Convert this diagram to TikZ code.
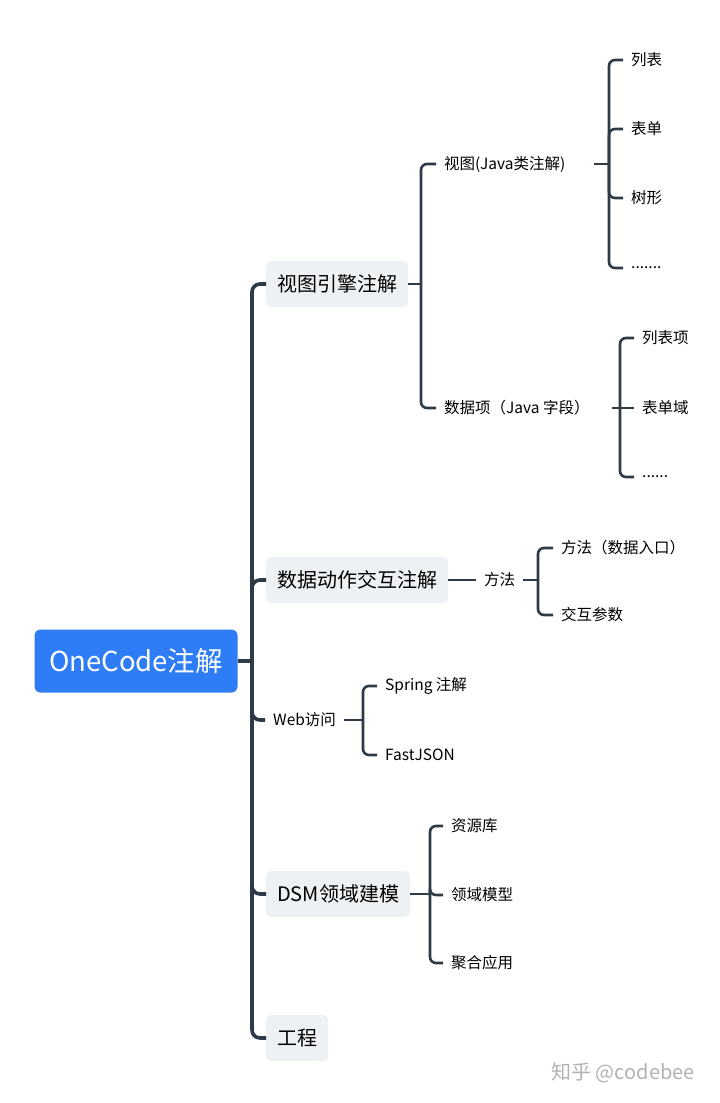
\documentclass[tikz,border=0pt]{standalone}
\usepackage{fontspec}
\setmainfont{Noto Sans CJK SC}
\usepackage{xcolor}
\usepackage{tikz}
\usetikzlibrary{positioning}

\definecolor{rootblue}{HTML}{2E7CF6}
\definecolor{topicgray}{HTML}{EEF1F4}
\definecolor{linedark}{HTML}{2F3A47}

\begin{document}
\begin{tikzpicture}[
    x=1pt, y=-1pt,
    root/.style={rectangle, fill=rootblue, rounded corners=6pt, text=white, minimum width=203pt, minimum height=63pt, inner sep=0pt, font=\fontsize{27.5}{32}\selectfont},
    topic/.style={rectangle, fill=topicgray, rounded corners=5pt, anchor=west, minimum height=46pt, inner xsep=11pt, font=\fontsize{20}{24}\selectfont},
    sub/.style={anchor=west, inner xsep=8pt, inner ysep=2pt, font=\fontsize{15.5}{18}\selectfont},
    trunk/.style={draw=linedark, line width=3.6pt, rounded corners=8pt},
    branch/.style={draw=linedark, line width=2.6pt, rounded corners=6pt},
    watermark/.style={text=black!30, font=\fontsize{20}{24}\selectfont}
]
\useasboundingbox[fill=white] (0,0) rectangle (720,1103);

% Root
\node[root] (onecode) at (136,661) {OneCode注解};

% Main topics
\node[topic] (viewengine) at (266,284) {视图引擎注解};
\node[topic] (dataaction) at (266,580) {数据动作交互注解};
\node[sub] (web) at (265,720) {Web访问};
\node[topic] (dsm) at (266,894) {DSM领域建模};
\node[topic] (project) at (266,1038) {工程};

% View engine
\node[sub] (viewclass) at (436,164) {视图(Java类注解)};
\node[sub] (datafield) at (436,408) {数据项（Java 字段）};
\node[sub] (list) at (623,60) {列表};
\node[sub] (form) at (623,129) {表单};
\node[sub] (tree) at (623,198) {树形};
\node[sub] (viewmore) at (623,268) {.......};
\node[sub] (listitem) at (634,338) {列表项};
\node[sub] (formfield) at (634,408) {表单域};
\node[sub] (fieldmore) at (634,477) {......};

% Data action
\node[sub] (method) at (476,580) {方法};
\node[sub] (entry) at (553,548) {方法（数据入口）};
\node[sub] (params) at (553,615) {交互参数};

% Web access
\node[sub] (spring) at (377,686) {Spring 注解};
\node[sub] (fastjson) at (377,755) {FastJSON};

% DSM
\node[sub] (repo) at (443,826) {资源库};
\node[sub] (model) at (443,895) {领域模型};
\node[sub] (app) at (443,963) {聚合应用};

% Junctions
\coordinate (trunkJ) at (252,661);
\coordinate (viewJ) at (421,284);
\coordinate (classJ) at (609,164);
\coordinate (fieldJ) at (620,408);
\coordinate (methodJ) at (538,580);
\coordinate (webJ) at (363,720);
\coordinate (dsmJ) at (430,894);

% Trunk
\draw[trunk] (onecode.east) -- (trunkJ);
\draw[trunk] (trunkJ) |- (viewengine.west);
\draw[trunk] (trunkJ) |- (dataaction.west);
\draw[trunk] (trunkJ) |- (web.west);
\draw[trunk] (trunkJ) |- (dsm.west);
\draw[trunk] (trunkJ) |- (project.west);

% View engine branches
\draw[branch] (viewengine.east) -- (viewJ);
\draw[branch] (viewJ) |- (viewclass.west);
\draw[branch] (viewJ) |- (datafield.west);
\draw[branch] ([xshift=20pt]viewclass.east) -- (classJ);
\draw[branch] (classJ) |- (list.west);
\draw[branch] (classJ) |- (form.west);
\draw[branch] (classJ) |- (tree.west);
\draw[branch] (classJ) |- (viewmore.west);
\draw[branch] ([xshift=14pt]datafield.east) -- (fieldJ);
\draw[branch] (fieldJ) |- (listitem.west);
\draw[branch] (fieldJ) -- (formfield.west);
\draw[branch] (fieldJ) |- (fieldmore.west);

% Data action branches
\draw[branch] (dataaction.east) -- (method.west);
\draw[branch] (method.east) -- (methodJ);
\draw[branch] (methodJ) |- (entry.west);
\draw[branch] (methodJ) |- (params.west);

% Web access branches
\draw[branch] (web.east) -- (webJ);
\draw[branch] (webJ) |- (spring.west);
\draw[branch] (webJ) |- (fastjson.west);

% DSM branches
\draw[branch] (dsm.east) -- (dsmJ);
\draw[branch] (dsmJ) |- (repo.west);
\draw[branch] (dsmJ) |- (model.west);
\draw[branch] (dsmJ) |- (app.west);

% Watermark
\node[watermark] (zhihu) at (623,1073) {知乎 @codebee};

\end{tikzpicture}
\end{document}
